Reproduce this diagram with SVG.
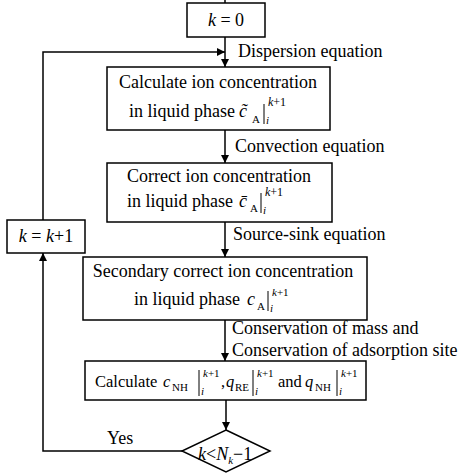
<svg xmlns="http://www.w3.org/2000/svg" width="474" height="474" viewBox="0 0 474 474">
<style>
.box{fill:#fff;stroke:#000;stroke-width:1.5}
.ln{fill:none;stroke:#000;stroke-width:1.5}
text{font-family:'Liberation Serif','DejaVu Serif',serif;fill:#000}
.t{font-size:18px}
.m{font-size:16.5px}
.i{font-style:italic}
.s{font-size:12px}
.ss{font-size:11px}
.bar{stroke:#000;stroke-width:1}
</style>
<defs>
<marker id="ah" viewBox="0 0 10 10" refX="10" refY="5" markerWidth="8" markerHeight="8" markerUnits="userSpaceOnUse" orient="auto">
<path d="M0,0 L10,5 L0,10 z" fill="#000"/>
</marker>
</defs>
<g id="connectors">
<line class="ln" x1="225" y1="0" x2="225" y2="3"/>
<line class="ln" x1="225" y1="37" x2="225" y2="67" marker-end="url(#ah)"/>
<line class="ln" x1="225" y1="130" x2="225" y2="163" marker-end="url(#ah)"/>
<line class="ln" x1="225" y1="222" x2="225" y2="257" marker-end="url(#ah)"/>
<line class="ln" x1="225" y1="320" x2="225" y2="361" marker-end="url(#ah)"/>
<line class="ln" x1="226" y1="400" x2="226" y2="430" marker-end="url(#ah)"/>
<polyline class="ln" points="182,451 43,451 43,253" marker-end="url(#ah)"/>
<polyline class="ln" points="43,220 43,52 225,52" marker-end="url(#ah)"/>
<text class="t" x="238" y="57">Dispersion equation</text>
<text class="t" x="235" y="152">Convection equation</text>
<text class="t" x="233" y="240">Source-sink equation</text>
<text class="t" x="232" y="334">Conservation of mass and</text>
<text class="t" x="232" y="356">Conservation of adsorption site</text>
<text class="t" x="107" y="444">Yes</text>
</g>
<g id="start">
<rect class="box" x="187" y="3" width="78" height="34"/>
<text class="t" x="226" y="26" text-anchor="middle"><tspan class="i">k</tspan> = 0</text>
</g>
<g id="step1">
<rect class="box" x="107" y="67" width="223" height="63"/>
<text class="t" x="218" y="88" text-anchor="middle">Calculate ion concentration</text>
<text class="t" x="235" y="117" text-anchor="end">in liquid phase</text>
<text class="t i" x="239" y="117">c̃</text>
<text class="ss" x="252" y="123">A</text>
<line class="bar" x1="264" y1="104" x2="264" y2="124"/>
<text class="s i" x="268" y="106">k<tspan font-style="normal">+1</tspan></text>
<text class="ss i" x="266" y="124">i</text>
</g>
<g id="step2">
<rect class="box" x="107" y="163" width="225" height="59"/>
<text class="t" x="219" y="182" text-anchor="middle">Correct ion concentration</text>
<text class="t" x="233" y="207" text-anchor="end">in liquid phase</text>
<text class="t i" x="239" y="207">c̄</text>
<text class="ss" x="250" y="212">A</text>
<line class="bar" x1="261" y1="193" x2="261" y2="213"/>
<text class="s i" x="265" y="196">k<tspan font-style="normal">+1</tspan></text>
<text class="ss i" x="263" y="214">i</text>
</g>
<g id="step3">
<rect class="box" x="83" y="257" width="284" height="63"/>
<text class="t" x="223" y="277" text-anchor="middle">Secondary correct ion concentration</text>
<text class="t" x="240" y="305" text-anchor="end">in liquid phase</text>
<text class="t i" x="247" y="305">c</text>
<text class="ss" x="257" y="310">A</text>
<line class="bar" x1="268" y1="291" x2="268" y2="311"/>
<text class="ss i" x="272" y="296">k<tspan font-style="normal">+1</tspan></text>
<text class="ss i" x="270" y="312">i</text>
</g>
<g id="step4">
<rect class="box" x="85" y="361" width="281" height="39"/>
<text class="m" x="95" y="387">Calculate</text>
<text class="m i" x="163" y="387">c</text>
<text class="ss" x="172" y="391">NH</text>
<line class="bar" x1="199" y1="370" x2="199" y2="396"/>
<text class="ss i" x="203" y="377">k<tspan font-style="normal">+1</tspan></text>
<text class="ss i" x="201" y="395">i</text>
<text class="m" x="221" y="387">,</text>
<text class="m i" x="226" y="387">q</text>
<text class="ss" x="235" y="391">RE</text>
<line class="bar" x1="253" y1="370" x2="253" y2="396"/>
<text class="ss i" x="257" y="377">k<tspan font-style="normal">+1</tspan></text>
<text class="ss i" x="255" y="395">i</text>
<text class="m" x="278" y="387">and</text>
<text class="m i" x="305" y="387">q</text>
<text class="ss" x="315" y="391">NH</text>
<line class="bar" x1="337" y1="370" x2="337" y2="396"/>
<text class="ss i" x="341" y="377">k<tspan font-style="normal">+1</tspan></text>
<text class="ss i" x="339" y="395">i</text>
</g>
<g id="update">
<rect class="box" x="7" y="220" width="78" height="33"/>
<text class="t" x="46" y="242" text-anchor="middle"><tspan class="i">k</tspan> = <tspan class="i">k</tspan>+1</text>
</g>
<g id="decision">
<polygon class="box" points="226,430 270,451 226,472 182,451"/>
<text class="t" x="198" y="460"><tspan class="i">k</tspan>&lt;<tspan class="i">N</tspan><tspan class="i ss" dy="4">k</tspan><tspan dy="-4">−1</tspan></text>
</g>
</svg>
